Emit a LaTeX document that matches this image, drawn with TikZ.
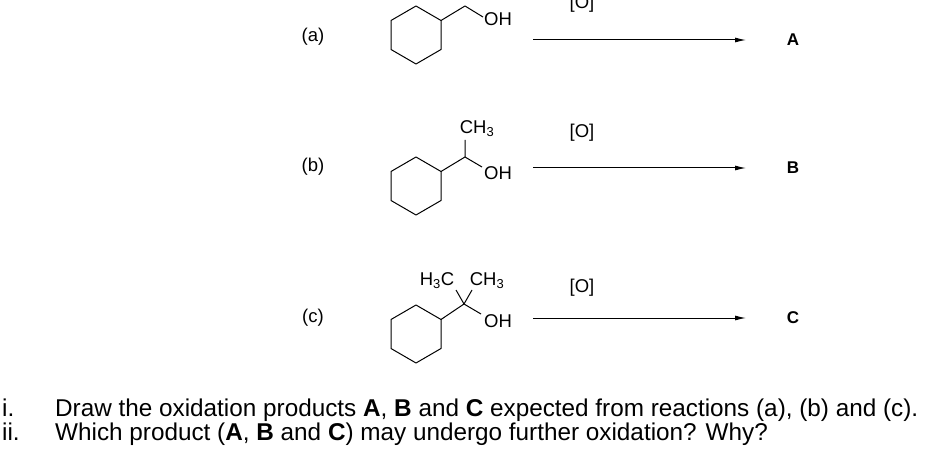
\documentclass[tikz,border=0pt]{standalone}
\usepackage{fontspec}
\setmainfont{Liberation Sans}
\usetikzlibrary{arrows.meta}
\begin{document}
\begin{tikzpicture}[x=1pt,y=-1pt,
  lab/.style={inner sep=0pt,font=\fontsize{18.5}{18.5}\selectfont},
  bnd/.style={line width=1pt,line join=round},
  arr/.style={line width=1pt,-{Latex[length=11pt,width=5pt]}}]
\useasboundingbox (0,0) rectangle (941,454);
% hexagons
\foreach \n/\cy in {a/35,b/186,c/334}{
  \draw[bnd] (416,\cy-29) -- (441,\cy-14.5) -- (441,\cy+14.5) -- (416,\cy+29) -- (391,\cy+14.5) -- (391,\cy-14.5) -- cycle;
  \coordinate (\n v) at (441,\cy-14.5);
}
% (a)
\coordinate (a1) at (465,6);
\node[lab] (aOH) at (498,19) {OH};
\draw[bnd] (av) -- (a1) -- (483,17);
% (b)
\coordinate (b1) at (465,157);
\node[lab] (bCH) at (477,129) {CH\textsubscript{3}};
\node[lab] (bOH) at (498,173) {OH};
\draw[bnd] (bv) -- (b1) -- (465,140);
\draw[bnd] (b1) -- (482,167);
% (c)
\coordinate (c1) at (464,304);
\node[lab] (cH) at (437,281) {H\textsubscript{3}C};
\node[lab] (cCH) at (487,281) {CH\textsubscript{3}};
\node[lab] (cOH) at (498,321) {OH};
\draw[bnd] (cv) -- (c1) -- (456,290);
\draw[bnd] (c1) -- (472,290);
\draw[bnd] (c1) -- (481,314);
% labels
\node[lab] (la) at (313,37) {(a)};
\node[lab] (lb) at (313,167) {(b)};
\node[lab] (lc) at (313,318) {(c)};
% arrows
\coordinate (s1) at (533,40); \coordinate (e1) at (746,40);
\coordinate (s2) at (533,168); \coordinate (e2) at (746,168);
\coordinate (s3) at (533,318); \coordinate (e3) at (746,318);
\draw[arr] (s1) -- (e1); \draw[arr] (s2) -- (e2); \draw[arr] (s3) -- (e3);
\node[lab] (o1) at (582,4) {[O]};
\node[lab] (o2) at (582,133) {[O]};
\node[lab] (o3) at (582,288) {[O]};
\node[lab,font=\fontsize{17}{17}\selectfont\bfseries] (A) at (793,40) {A};
\node[lab,font=\fontsize{17}{17}\selectfont\bfseries] (B) at (793,168) {B};
\node[lab,font=\fontsize{17}{17}\selectfont\bfseries] (C) at (793,318) {C};
% questions
\begin{scope}[every node/.style={inner sep=0pt,anchor=base west,font=\fontsize{24.3}{25}\selectfont}]
\node (i1) at (2,416) {i.};
\node (i2) at (55,416) {Draw the oxidation products \textbf{A}, \textbf{B} and \textbf{C} expected from reactions (a), (b) and (c).};
\node (j1) at (2,440) {ii.};
\node (j2) at (55,440) {Which product (\textbf{A}, \textbf{B} and \textbf{C}) may undergo further oxidation? Why?};
\end{scope}
\end{tikzpicture}
\end{document}
